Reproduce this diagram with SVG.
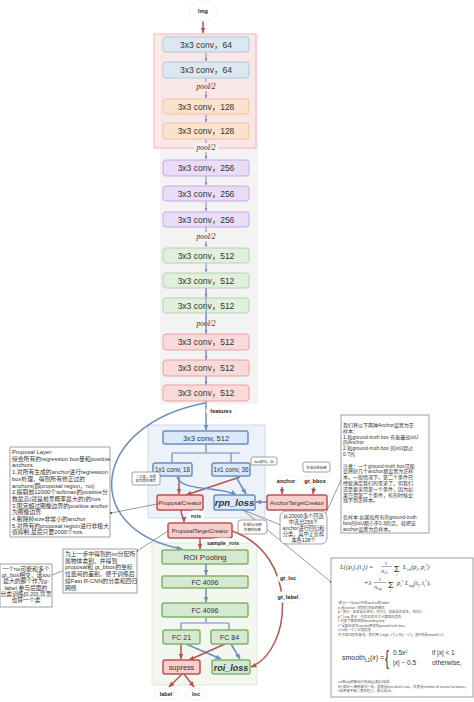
<svg xmlns="http://www.w3.org/2000/svg" width="474" height="702" viewBox="0 0 474 702">
<defs>
<marker id="ab" viewBox="0 0 10 10" refX="9" refY="5" markerWidth="4" markerHeight="4" orient="auto"><path d="M0,1 L10,5 L0,9 z" fill="#6c8ebf"/></marker>
<marker id="ar" viewBox="0 0 10 10" refX="9" refY="5" markerWidth="4" markerHeight="4" orient="auto"><path d="M0,1 L10,5 L0,9 z" fill="#b85450"/></marker>
<marker id="as" viewBox="0 0 10 10" refX="9" refY="5" markerWidth="3.5" markerHeight="3.5" orient="auto"><path d="M0,1 L10,5 L0,9 z" fill="#7a8ad8"/></marker>
<style>
text{font-family:"Liberation Sans","Noto Sans CJK SC",sans-serif;fill:#333}
.c{text-anchor:middle}
.bx{stroke-width:1;rx:3}
.b64{fill:#dce8f0;stroke:#b0cadb}
.b128{fill:#fbe2cf;stroke:#efc4a0}
.b256{fill:#e9ddf6;stroke:#c6a9e6}
.bg{fill:#e1efdd;stroke:#b3d4ad}
.bred{fill:#f9dada;stroke:#e9a3a3}
.ct{font-size:8.5px}
.pool{font-family:"Liberation Serif",serif;font-style:italic;font-size:7.5px;text-anchor:middle}
.blue{fill:#dae8fc;stroke:#6c8ebf;stroke-width:1.5}
.red{fill:#f8cecc;stroke:#b85450;stroke-width:1.5}
.grn{fill:#d5e8d4;stroke:#82b366;stroke-width:1.5}
.loss{font-weight:bold;font-style:italic}
.lbl{fill:#fff;stroke:#eeeeee;stroke-width:0.8}
.lt{font-size:5.5px;font-weight:bold;text-anchor:middle;fill:#222}
.sa{stroke:#7a8ad8;stroke-width:1;fill:none;marker-end:url(#as)}
.la{stroke:#6c8ebf;stroke-width:1.5;fill:none;marker-end:url(#ab)}
.ra{stroke:#b85450;stroke-width:1.5;fill:none;marker-end:url(#ar)}
.bl{stroke:#6c8ebf;stroke-width:1.2;fill:none}
.gl{stroke:#555;stroke-width:0.6;fill:none}
.note{fill:#fff;stroke:#888;stroke-width:0.8}
.nt{font-size:5.8px}
.at{font-size:5px}
.tiny{font-size:3.4px;fill:#555}
.m{font-family:"Liberation Serif",serif;font-style:italic;fill:#333}
.sl{font-size:3.5px}
</style>
</defs>

<!-- backgrounds -->
<rect x="160" y="34" width="98" height="370" fill="#f3f3f3"/>
<rect x="154" y="34" width="102" height="114" fill="#fbe3e3" fill-opacity="0.75" stroke="#f0b6b6" stroke-width="1"/>
<rect x="148" y="425" width="117" height="93" fill="#edf2f9" stroke="#cddbee" stroke-width="1"/>
<rect x="152" y="543" width="105" height="142" fill="#f2f7f0" stroke="#dce9d7" stroke-width="1"/>

<g id="connectors">
<path d="M203,21 V33" class="ra"/>
<path d="M206,52 V61" class="sa"/>
<path d="M206,78 V98" class="sa"/>
<path d="M206,114 V122" class="sa"/>
<path d="M206,139 V159" class="sa"/>
<path d="M206,176 V185" class="sa"/>
<path d="M206,201 V211" class="sa"/>
<path d="M206,227 V247" class="sa"/>
<path d="M206,263 V272" class="sa"/>
<path d="M206,288 V297" class="sa"/>
<path d="M206,313 V333" class="sa"/>
<path d="M206,350 V359" class="sa"/>
<path d="M206,376 V384" class="sa"/>
<path d="M206,401 V430" class="la" stroke-width="1"/>
<path d="M205,403 C90,425 80,530 182,549" class="la" stroke="#4a68b0" stroke-width="1"/>
<path d="M206,444 V453 M172,453 H240 M172,453 V463 M231,453 V463" class="bl"/>
<path d="M179,477 V494" class="ra"/>
<path d="M240,477 L186,495" class="ra"/>
<path d="M177,477 C182,492 222,486 236,495" class="la"/>
<path d="M236,477 L246,494" class="la"/>
<path d="M282,487 V494" class="ra" stroke-width="1"/>
<path d="M314,487 L313,494" class="ra" stroke-width="1"/>
<path d="M267,502 H256" class="la"/>
<path d="M181,510 C181,516 184,518 184,522" class="ra"/>
<path d="M200,538 V549" class="ra"/>
<path d="M206,564 V575" class="la" stroke-width="1"/>
<path d="M206,588 V602" class="la" stroke-width="1"/>
<path d="M206,617 V623 M181,623 H229 M181,623 V630 M229,623 V630" class="bl"/>
<path d="M181,644 V659" class="ra"/>
<path d="M186,644 L221,659" class="la"/>
<path d="M225,644 L189,660" class="ra"/>
<path d="M231,644 L240,659" class="la"/>
<path d="M182,674 L169,687" class="ra"/>
<path d="M184,674 L194,687" class="ra"/>
<path d="M232,531 C300,555 292,650 251,667" class="ra"/>
<path d="M157,504 L111,513" class="gl"/><circle cx="111" cy="513" r="1" fill="#333"/>
<path d="M168,531 L137,551" class="gl"/><circle cx="137" cy="551" r="1" fill="#333"/>
<path d="M65,570 L52,575" class="gl"/><circle cx="65" cy="570" r="1" fill="#333"/>
<path d="M243,510 L281,525" class="gl"/>
<path d="M243,510 L331,582" class="gl"/><circle cx="331" cy="582" r="1" fill="#333"/>
<path d="M325,515 L342,478" class="gl"/><circle cx="342" cy="478" r="1" fill="#333"/>
</g>

<g id="img"><ellipse cx="203" cy="11" rx="14" ry="10" class="lbl"/><text x="203" y="13" class="lt">Img</text></g>

<g id="conv1_1"><rect x="163" y="37" width="86" height="15" rx="3" class="b64"/><text x="206" y="47.5" class="c ct">3x3 conv，64</text></g>
<g id="conv1_2"><rect x="163" y="62" width="86" height="16" rx="3" class="b64"/><text x="206" y="73" class="c ct">3x3 conv，64</text></g>
<g id="pool1"><rect x="194" y="82" width="24" height="9" fill="#fbe3e3"/><text x="206" y="89" class="pool">pool/2</text></g>
<g id="conv2_1"><rect x="163" y="99" width="86" height="15" rx="3" class="b128"/><text x="206" y="109.5" class="c ct">3x3 conv，128</text></g>
<g id="conv2_2"><rect x="163" y="123" width="86" height="16" rx="3" class="b128"/><text x="206" y="134" class="c ct">3x3 conv，128</text></g>
<g id="pool2"><rect x="194" y="143" width="24" height="9" fill="#f3f3f3"/><text x="206" y="150" class="pool">pool/2</text></g>
<g id="conv3_1"><rect x="163" y="160" width="86" height="16" rx="3" class="b256"/><text x="206" y="171" class="c ct">3x3 conv，256</text></g>
<g id="conv3_2"><rect x="163" y="186" width="86" height="15" rx="3" class="b256"/><text x="206" y="196.5" class="c ct">3x3 conv，256</text></g>
<g id="conv3_3"><rect x="163" y="212" width="86" height="15" rx="3" class="b256"/><text x="206" y="222.5" class="c ct">3x3 conv，256</text></g>
<g id="pool3"><rect x="194" y="232" width="24" height="9" fill="#f3f3f3"/><text x="206" y="239" class="pool">pool/2</text></g>
<g id="conv4_1"><rect x="163" y="248" width="86" height="15" rx="3" class="bg"/><text x="206" y="258.5" class="c ct">3x3 conv，512</text></g>
<g id="conv4_2"><rect x="163" y="273" width="86" height="15" rx="3" class="bg"/><text x="206" y="283.5" class="c ct">3x3 conv，512</text></g>
<g id="conv4_3"><rect x="163" y="298" width="86" height="15" rx="3" class="bg"/><text x="206" y="308.5" class="c ct">3x3 conv，512</text></g>
<g id="pool4"><text x="206" y="326" class="pool">pool/2</text></g>
<g id="conv5_1"><rect x="163" y="334" width="86" height="16" rx="3" class="bred"/><text x="206" y="345" class="c ct">3x3 conv，512</text></g>
<g id="conv5_2"><rect x="163" y="360" width="86" height="16" rx="3" class="bred"/><text x="206" y="371" class="c ct">3x3 conv，512</text></g>
<g id="conv5_3"><rect x="163" y="385" width="86" height="16" rx="3" class="bred"/><text x="206" y="396" class="c ct">3x3 conv，512</text></g>
<path d="M206,288 V334 M206,350 V360 M206,376 V385" stroke="#7a8ad8" stroke-width="1" fill="none"/>

<g id="features"><ellipse cx="221" cy="411" rx="15" ry="7" class="lbl"/><text x="221" y="413" class="lt" font-size="5px">features</text></g>

<g id="rpn_conv"><rect x="163" y="431" width="85" height="13" rx="2" class="blue"/><text x="206" y="440.5" class="c" font-size="7.5px">3x3 conv, 512</text></g>
<g id="conv18"><rect x="153" y="463" width="39" height="13" rx="2" class="blue"/><text x="172.5" y="472" class="c" font-size="6.3px">1x1 conv, 18</text></g>
<g id="conv36"><rect x="212" y="463" width="38" height="13" rx="2" class="blue"/><text x="231" y="472" class="c" font-size="6.3px">1x1 conv, 36</text></g>
<g id="note18"><rect x="132" y="472" width="28" height="13" rx="2" class="note"/><text x="146" y="477.5" class="c" font-size="3.4px">二分类，前景</text><text x="146" y="482" class="c" font-size="3.4px">和背景的概率</text></g>
<g id="note36"><rect x="251" y="457" width="26" height="8" rx="2" class="note"/><text x="264" y="462.5" class="c" font-size="3.4px">box回归，4k</text></g>
<g id="noteanchor"><rect x="303" y="462" width="27" height="10" rx="2" class="note"/><text x="316.5" y="468.5" class="c" font-size="3.4px">生成训练标签</text></g>

<g id="anchor"><ellipse cx="286" cy="481" rx="12" ry="6" class="lbl"/><text x="286" y="483" class="lt">anchor</text></g>
<g id="gt_bbox"><ellipse cx="315" cy="481" rx="13" ry="6" class="lbl"/><text x="315" y="483" class="lt">gt_bbox</text></g>

<g id="proposal_creator"><rect x="157" y="495" width="46" height="15" rx="2" class="red"/><text x="180" y="504.5" class="c" font-size="6px">ProposalCreator</text></g>
<g id="rpn_loss"><rect x="214" y="495" width="41" height="15" rx="2" class="blue"/><text x="234.5" y="506" class="c loss" font-size="9.5px">rpn_loss</text></g>
<g id="anchor_target"><rect x="267" y="495" width="60" height="15" rx="2" class="red"/><text x="297" y="504.5" class="c" font-size="5.8px">AnchorTargetCreator</text></g>

<g id="rois"><ellipse cx="196" cy="516" rx="9" ry="5.5" class="lbl"/><text x="196" y="518" class="lt" font-size="5px">rois</text></g>
<g id="ptc"><rect x="168" y="523" width="64" height="15" rx="2" class="red"/><text x="200" y="532.5" class="c" font-size="5.6px">ProposalTargetCreator</text></g>
<g id="noteptc"><rect x="238" y="520" width="29" height="14" rx="3" class="note"/><text x="252.5" y="526" class="c" font-size="3.4px">生成RoI训练</text><text x="252.5" y="530.5" class="c" font-size="3.4px">所需的标签</text></g>
<g id="sample_rois"><ellipse cx="223" cy="543" rx="16" ry="5" class="lbl"/><text x="223" y="545" class="lt" font-size="5px">sample_rois</text></g>

<g id="callout256"><rect x="280" y="511" width="47" height="33" rx="6" class="note" stroke="#555"/>
<text class="c" font-size="5.2px"><tspan x="303.5" y="518">从20000多个回选</tspan><tspan x="303.5" y="524">中选出256个</tspan><tspan x="303.5" y="530">anchor进行回归和</tspan><tspan x="303.5" y="536">分类，其中正负样</tspan><tspan x="303.5" y="542">本各128个</tspan></text></g>

<g id="roi_pooling"><rect x="162" y="550" width="86" height="14" rx="2" class="grn"/><text x="205" y="560" class="c" font-size="8px">ROI Pooling</text></g>
<g id="fc4096a"><rect x="162" y="576" width="86" height="12" rx="2" class="grn"/><text x="205" y="584.5" class="c" font-size="7px">FC 4096</text></g>
<g id="fc4096b"><rect x="162" y="603" width="86" height="14" rx="2" class="grn"/><text x="205" y="612.5" class="c" font-size="7px">FC 4096</text></g>
<g id="fc21"><rect x="163" y="630" width="37" height="14" rx="2" class="grn"/><text x="181.5" y="639.5" class="c" font-size="7px">FC 21</text></g>
<g id="fc84"><rect x="211" y="630" width="37" height="14" rx="2" class="grn"/><text x="229.5" y="639.5" class="c" font-size="7px">FC 84</text></g>
<g id="supress"><rect x="163" y="660" width="37" height="14" rx="2" class="red"/><text x="181.5" y="669.5" class="c" font-size="7.3px">supress</text></g>
<g id="roi_loss"><rect x="212" y="660" width="38" height="14" rx="2" class="grn"/><text x="231" y="670.5" class="c loss" font-size="9px">roi_loss</text></g>
<g id="label"><ellipse cx="166" cy="694" rx="12" ry="6" class="lbl"/><text x="166" y="696" class="lt" font-size="5px">label</text></g>
<g id="loc"><ellipse cx="196" cy="694" rx="11" ry="6" class="lbl"/><text x="196" y="696" class="lt" font-size="5px">loc</text></g>
<g id="gt_loc"><ellipse cx="288" cy="578" rx="11" ry="6" class="lbl"/><text x="288" y="580" class="lt">gt_loc</text></g>
<g id="gt_label"><ellipse cx="288" cy="597" rx="13" ry="6" class="lbl"/><text x="288" y="599" class="lt">gt_label</text></g>

<g id="proposal_layer_note"><rect x="10" y="447" width="100" height="90" class="note"/>
<text class="nt"><tspan x="12" y="454">Proposal Layer:</tspan><tspan x="12" y="460.7">综合所有的regression box量和positive</tspan><tspan x="12" y="467.4">anchors,</tspan><tspan x="12" y="474.1">1.对所有生成的anchor进行regression</tspan><tspan x="12" y="480.8">box处理，得到所有修正过的</tspan><tspan x="12" y="487.5">anchors(即proposal region，roi)</tspan><tspan x="12" y="494.2">2.提取前12000个softmax的positive分</tspan><tspan x="12" y="500.9">数最高(就是前景概率最大的)的rois</tspan><tspan x="12" y="507.6">3.限定超过图像边界的positive anchor</tspan><tspan x="12" y="514.3">为图像边界</tspan><tspan x="12" y="521">4.剔除掉size非常小的anchor</tspan><tspan x="12" y="527.7">5.对所有的proposal region进行非极大</tspan><tspan x="12" y="534.4">值抑制,最后只要2000个rois.</tspan></text></g>

<g id="ptc_note"><rect x="63" y="549" width="74" height="44" class="note"/>
<text class="nt"><tspan x="65" y="556">为上一步中得到的roi分配所</tspan><tspan x="65" y="562.7">属物体类别，并得到</tspan><tspan x="65" y="569.4">proposal和 gt_bbox的坐标</tspan><tspan x="65" y="576.1">位置间的差别，便于训练后</tspan><tspan x="65" y="582.8">续Fast R-CNN的分类和回归</tspan><tspan x="65" y="589.5">网络</tspan></text></g>

<g id="gtlabel_note"><rect x="0" y="564" width="52" height="43" class="note"/>
<text class="c nt"><tspan x="26" y="571">一个roi可能和多个</tspan><tspan x="26" y="577.2">gt_box相交，选iou</tspan><tspan x="26" y="583.4">最大的那个作为g-</tspan><tspan x="26" y="589.6">label,参与后面的</tspan><tspan x="26" y="595.8">分类训练[0,20],背景</tspan><tspan x="26" y="602">也算一个类</tspan></text></g>

<g id="anchor_note"><rect x="341" y="415" width="88" height="118" class="note"/>
<text class="at"><tspan x="343" y="427">我们将以下两种Anchor设置为正</tspan><tspan x="343" y="432.8">样本：</tspan><tspan x="343" y="438.6">1.和ground-truth box 有着最高IoU</tspan><tspan x="343" y="444.4">的Anchor</tspan><tspan x="343" y="450.2">2.和ground-truth box 的IoU超过</tspan><tspan x="343" y="456">0.7的</tspan><tspan x="343" y="467.5">注意：一个ground-truth box可能</tspan><tspan x="343" y="473.3">会将好几个anchor都设置为正样</tspan><tspan x="343" y="479.1">本。一般情况下，第二个条件已</tspan><tspan x="343" y="484.9">经能满足我们的需求了，但我们</tspan><tspan x="343" y="490.7">还是要采用第一个条件，因为如</tspan><tspan x="343" y="496.5">果只用第二个条件，有的时候会</tspan><tspan x="343" y="502.3">找不到正样本。</tspan><tspan x="343" y="519">负样本:如果和所有的ground-truth</tspan><tspan x="343" y="524.8">box的IoU都小于0.3的话，就把该</tspan><tspan x="343" y="530.6">anchor设置为负样本。</tspan></text></g>

<g id="loss_note"><rect x="331" y="558" width="142" height="139" class="note"/>
<text class="m" font-size="6.5px" x="340" y="569">L({p<tspan font-size="4" dy="1.5">i</tspan><tspan dy="-1.5">},{t</tspan><tspan font-size="4" dy="1.5">i</tspan><tspan dy="-1.5">}) =</tspan></text>
<text class="m" font-size="5px" x="386" y="565" text-anchor="middle">1</text>
<path d="M381,566.5 H392" stroke="#333" stroke-width="0.4"/>
<text class="m" font-size="5px" x="381" y="572.5">N<tspan font-size="3.2" dy="1">cls</tspan></text>
<text font-size="9px" x="394" y="571.5" font-family="Liberation Serif,serif">Σ</text>
<text class="m" font-size="3.5px" x="396" y="576">i</text>
<text class="m" font-size="6.5px" x="403" y="569">L<tspan font-size="4" dy="1.5">cls</tspan><tspan dy="-1.5">(p</tspan><tspan font-size="4" dy="1.5">i</tspan><tspan dy="-1.5">, p</tspan><tspan font-size="4" dy="1.5">i</tspan><tspan font-size="4" dy="-3.5">*</tspan><tspan dy="2">)</tspan></text>
<text class="m" font-size="6.5px" x="364" y="585">+λ</text>
<text class="m" font-size="5px" x="380" y="581" text-anchor="middle">1</text>
<path d="M374,582.5 H386" stroke="#333" stroke-width="0.4"/>
<text class="m" font-size="5px" x="374" y="588.5">N<tspan font-size="3.2" dy="1">reg</tspan></text>
<text font-size="9px" x="388" y="587.5" font-family="Liberation Serif,serif">Σ</text>
<text class="m" font-size="3.5px" x="390" y="592">i</text>
<text class="m" font-size="6.5px" x="397" y="585">p<tspan font-size="4" dy="1.5">i</tspan><tspan font-size="4" dy="-3.5">*</tspan><tspan dy="2"> L</tspan><tspan font-size="4" dy="1.5">reg</tspan><tspan dy="-1.5">(t</tspan><tspan font-size="4" dy="1.5">i</tspan><tspan dy="-1.5">, t</tspan><tspan font-size="4" dy="1.5">i</tspan><tspan font-size="4" dy="-3.5">*</tspan><tspan dy="2">).</tspan></text>
<text class="tiny"><tspan x="338" y="604">i表示一个batch中的anchor的index</tspan><tspan x="338" y="608.5">pᵢ 是anchor i 预测为目标的概率</tspan><tspan x="338" y="613">pᵢ* 表示：如果是正样本，则为1；如果是负样本，则为0</tspan><tspan x="338" y="617.5">pᵢ* Lreg 表示：只有正样本才计算回归损失</tspan><tspan x="338" y="622">tᵢ 代表了被预测的bounding box</tspan><tspan x="338" y="626.5">tᵢ* 是和正样本anchor相关的ground-truth box，</tspan><tspan x="338" y="631">Lcls是一个二分类损失</tspan><tspan x="338" y="636">对于回归损失来说，我们用 Lreg(tᵢ, tᵢ*) = R(tᵢ − tᵢ*)，其中R是smooth L1</tspan></text>
<text font-size="7px" x="342" y="660" font-family="Liberation Serif,serif" fill="#333">smooth<tspan font-size="4.5" dy="1.5">L1</tspan><tspan dy="-1.5">(</tspan><tspan font-style="italic">x</tspan><tspan>) =</tspan></text>
<text font-size="20px" x="385" y="665" font-family="Liberation Serif,serif" fill="#333" transform="translate(385,659) scale(0.6,1) translate(-385,-659)">{</text>
<text font-size="6.5px" x="393" y="655" font-family="Liberation Serif,serif" fill="#333">0.5<tspan font-style="italic">x</tspan><tspan font-size="4" dy="-2.5">2</tspan></text>
<text font-size="6.5px" x="432" y="655" font-family="Liberation Serif,serif" fill="#333">if |<tspan font-style="italic">x</tspan>| &lt; 1</text>
<text font-size="6.5px" x="393" y="665" font-family="Liberation Serif,serif" fill="#333">|<tspan font-style="italic">x</tspan>| − 0.5</text>
<text font-size="6.5px" x="432" y="665" font-family="Liberation Serif,serif" fill="#333">otherwise,</text>
<text class="tiny"><tspan x="338" y="683">cls和reg的输出分别由{pᵢ}和{tᵢ}组成</tspan><tspan x="338" y="687.5">Nᶜˡˢ和Nʳᵉᵍ 被用来归一化，前者是mini-batch size，后者是number of anchor locations，</tspan><tspan x="338" y="692">λ是用来平衡二者的权重，默认是10。</tspan></text>
</g>
</svg>
